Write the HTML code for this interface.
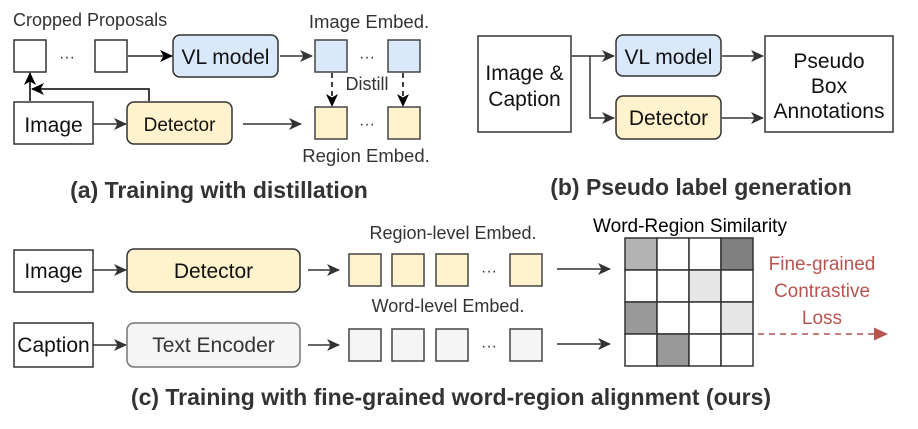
<!DOCTYPE html>
<html><head><meta charset="utf-8"><style>
html,body{margin:0;padding:0;background:#fff;}
svg text{font-family:"Liberation Sans",Arial,sans-serif;}
</style></head><body>
<svg width="918" height="424" viewBox="0 0 918 424" xmlns="http://www.w3.org/2000/svg">
<defs>
<marker id="ah" markerWidth="13" markerHeight="12" refX="12" refY="6" orient="auto" markerUnits="userSpaceOnUse"><path d="M0,0 L13,6 L0,12 L3.5,6 z" fill="#333"/></marker>
<marker id="ahb" markerWidth="13" markerHeight="12" refX="12" refY="6" orient="auto" markerUnits="userSpaceOnUse"><path d="M0,0 L13,6 L0,12 L3.5,6 z" fill="#000"/></marker>
<marker id="ahr" markerWidth="14" markerHeight="13" refX="13" refY="6.5" orient="auto" markerUnits="userSpaceOnUse"><path d="M0,0 L14,6.5 L0,13 z" fill="#b85450"/></marker>
</defs>
<g stroke-width="1.5">
<!-- (a) -->
<text x="13" y="26" font-size="18" fill="#333">Cropped Proposals</text>
<rect x="14" y="40" width="32" height="32" fill="#fff" stroke="#333"/>
<text x="67" y="62" font-size="16" fill="#333" text-anchor="middle">···</text>
<rect x="95" y="40" width="32" height="32" fill="#fff" stroke="#333"/>
<line x1="128" y1="56" x2="172" y2="56" stroke="#222" marker-end="url(#ahb)"/>
<rect x="173" y="35" width="105" height="42" rx="7" fill="#dae8fc" stroke="#333"/>
<text x="225.5" y="64" font-size="21" text-anchor="middle" fill="#111">VL model</text>
<line x1="280" y1="56" x2="312" y2="56" stroke="#333" marker-end="url(#ah)"/>
<text x="369" y="28" font-size="18.5" text-anchor="middle" fill="#333">Image Embed.</text>
<rect x="315" y="40" width="32" height="32" fill="#dae8fc" stroke="#444"/>
<text x="367" y="62" font-size="16" fill="#333" text-anchor="middle">···</text>
<rect x="388" y="40" width="32" height="32" fill="#dae8fc" stroke="#444"/>
<line x1="332" y1="73" x2="332" y2="106" stroke="#000" stroke-dasharray="5,4" marker-end="url(#ahb)"/>
<line x1="403" y1="73" x2="403" y2="106" stroke="#000" stroke-dasharray="5,4" marker-end="url(#ahb)"/>
<text x="367" y="90" font-size="18" text-anchor="middle" fill="#333">Distill</text>
<rect x="315" y="107" width="32" height="32" fill="#fff2cc" stroke="#444"/>
<text x="367" y="129" font-size="16" fill="#333" text-anchor="middle">···</text>
<rect x="388" y="107" width="32" height="32" fill="#fff2cc" stroke="#444"/>
<text x="366" y="162" font-size="18.5" text-anchor="middle" fill="#333">Region Embed.</text>
<rect x="14" y="102" width="79" height="42" fill="#fff" stroke="#333"/>
<text x="53.5" y="132" font-size="21" text-anchor="middle" fill="#111">Image</text>
<line x1="93" y1="124" x2="126" y2="124" stroke="#333" marker-end="url(#ah)"/>
<rect x="127" y="102" width="105" height="42" rx="7" fill="#fff2cc" stroke="#333"/>
<text x="179.5" y="131" font-size="19" text-anchor="middle" fill="#111">Detector</text>
<line x1="243" y1="124" x2="301" y2="124" stroke="#333" marker-end="url(#ah)"/>
<polyline points="149,101 149,89 32,89" fill="none" stroke="#000" marker-end="url(#ahb)"/>
<line x1="30" y1="101" x2="30" y2="73" stroke="#000" marker-end="url(#ahb)"/>
<text x="219" y="198" font-size="23" font-weight="bold" text-anchor="middle" fill="#333">(a) Training with distillation</text>

<!-- (b) -->
<rect x="478" y="36" width="93" height="96" fill="#fff" stroke="#333"/>
<text x="524.5" y="80" font-size="21" text-anchor="middle" fill="#111">Image &amp;</text>
<text x="524.5" y="106" font-size="21" text-anchor="middle" fill="#111">Caption</text>
<line x1="572" y1="56" x2="614" y2="56" stroke="#333" marker-end="url(#ah)"/>
<polyline points="590,56 590,118 614,118" fill="none" stroke="#333" marker-end="url(#ah)"/>
<rect x="616" y="35" width="105" height="41" rx="7" fill="#dae8fc" stroke="#333"/>
<text x="668.5" y="64" font-size="21" text-anchor="middle" fill="#111">VL model</text>
<rect x="616" y="96" width="105" height="43" rx="7" fill="#fff2cc" stroke="#333"/>
<text x="668.5" y="125" font-size="21" text-anchor="middle" fill="#111">Detector</text>
<line x1="722" y1="56" x2="763" y2="56" stroke="#333" marker-end="url(#ah)"/>
<line x1="722" y1="118" x2="763" y2="118" stroke="#333" marker-end="url(#ah)"/>
<rect x="765" y="36" width="128" height="96" fill="#fff" stroke="#333"/>
<text x="829" y="68" font-size="21" text-anchor="middle" fill="#111">Pseudo</text>
<text x="829" y="93" font-size="21" text-anchor="middle" fill="#111">Box</text>
<text x="829" y="118" font-size="21" text-anchor="middle" fill="#111">Annotations</text>
<text x="701" y="195" font-size="23" font-weight="bold" text-anchor="middle" fill="#333">(b) Pseudo label generation</text>

<!-- (c) -->
<rect x="14" y="250" width="79" height="42" fill="#fff" stroke="#333"/>
<text x="53.5" y="278" font-size="21" text-anchor="middle" fill="#111">Image</text>
<line x1="93" y1="270" x2="126" y2="270" stroke="#333" marker-end="url(#ah)"/>
<rect x="127" y="249" width="173" height="43" rx="7" fill="#fff2cc" stroke="#333"/>
<text x="213.5" y="278" font-size="21" text-anchor="middle" fill="#111">Detector</text>
<line x1="308" y1="270" x2="339" y2="270" stroke="#333" marker-end="url(#ah)"/>
<text x="453" y="239" font-size="18" text-anchor="middle" fill="#333">Region-level Embed.</text>
<rect x="349" y="254" width="32" height="32" fill="#fff2cc" stroke="#444"/>
<rect x="392" y="254" width="32" height="32" fill="#fff2cc" stroke="#444"/>
<rect x="436" y="254" width="32" height="32" fill="#fff2cc" stroke="#444"/>
<text x="489" y="276" font-size="16" fill="#333" text-anchor="middle">···</text>
<rect x="510" y="254" width="32" height="32" fill="#fff2cc" stroke="#444"/>
<line x1="557" y1="269" x2="610" y2="269" stroke="#333" marker-end="url(#ah)"/>
<text x="448" y="312" font-size="18" text-anchor="middle" fill="#333">Word-level Embed.</text>
<rect x="14" y="323" width="79" height="44" fill="#fff" stroke="#333"/>
<text x="53.5" y="352" font-size="21" text-anchor="middle" fill="#111">Caption</text>
<line x1="93" y1="345" x2="126" y2="345" stroke="#333" marker-end="url(#ah)"/>
<rect x="127" y="323" width="173" height="44" rx="7" fill="#f5f5f5" stroke="#777"/>
<text x="213.5" y="352" font-size="21" text-anchor="middle" fill="#333">Text Encoder</text>
<line x1="308" y1="345" x2="339" y2="345" stroke="#333" marker-end="url(#ah)"/>
<rect x="349" y="329" width="32" height="32" fill="#f5f5f5" stroke="#444"/>
<rect x="392" y="329" width="32" height="32" fill="#f5f5f5" stroke="#444"/>
<rect x="436" y="329" width="32" height="32" fill="#f5f5f5" stroke="#444"/>
<text x="489" y="351" font-size="16" fill="#333" text-anchor="middle">···</text>
<rect x="510" y="329" width="32" height="32" fill="#f5f5f5" stroke="#444"/>
<line x1="557" y1="344" x2="610" y2="344" stroke="#333" marker-end="url(#ah)"/>
<text x="690" y="232" font-size="19" text-anchor="middle" fill="#000">Word-Region Similarity</text>
<g stroke="#333">
<rect x="625" y="238" width="32" height="32" fill="#b3b3b3"/>
<rect x="657" y="238" width="32" height="32" fill="#fff"/>
<rect x="689" y="238" width="32" height="32" fill="#fff"/>
<rect x="721" y="238" width="32" height="32" fill="#808080"/>
<rect x="625" y="270" width="32" height="32" fill="#fff"/>
<rect x="657" y="270" width="32" height="32" fill="#fff"/>
<rect x="689" y="270" width="32" height="32" fill="#e6e6e6"/>
<rect x="721" y="270" width="32" height="32" fill="#fff"/>
<rect x="625" y="302" width="32" height="32" fill="#999"/>
<rect x="657" y="302" width="32" height="32" fill="#fff"/>
<rect x="689" y="302" width="32" height="32" fill="#fff"/>
<rect x="721" y="302" width="32" height="32" fill="#e6e6e6"/>
<rect x="625" y="334" width="32" height="32" fill="#fff"/>
<rect x="657" y="334" width="32" height="32" fill="#999"/>
<rect x="689" y="334" width="32" height="32" fill="#fff"/>
<rect x="721" y="334" width="32" height="32" fill="#fff"/>
</g>
<text x="822" y="270" font-size="19" text-anchor="middle" fill="#b85450">Fine-grained</text>
<text x="822" y="297" font-size="19" text-anchor="middle" fill="#b85450">Contrastive</text>
<text x="822" y="324" font-size="19" text-anchor="middle" fill="#b85450">Loss</text>
<line x1="758" y1="334" x2="887" y2="334" stroke="#b85450" stroke-dasharray="6,5" marker-end="url(#ahr)"/>
<text x="451" y="405" font-size="23" font-weight="bold" text-anchor="middle" fill="#333">(c) Training with fine-grained word-region alignment (ours)</text>
</g>
</svg>
</body></html>
